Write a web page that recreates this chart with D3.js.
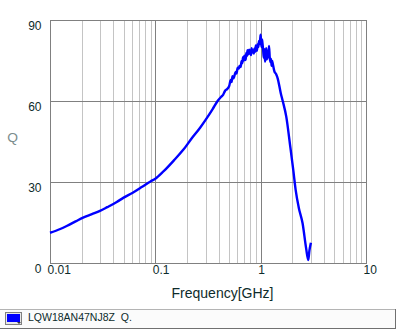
<!DOCTYPE html>
<html><head><meta charset="utf-8">
<script src="https://cdn.jsdelivr.net/npm/d3@7/dist/d3.min.js"></script>
<style>
html,body{margin:0;padding:0;background:#fff;}
svg{display:block;}
text{font-family:"Liberation Sans Narrow","Liberation Sans",Arial,sans-serif;}
</style></head>
<body>
<script>
const freqGHz = [0.01,0.0125,0.0144,0.0175,0.0206,0.025,0.0298,0.035,0.043,0.05,0.061,0.075,0.09,0.1,0.12,0.15,0.184,0.22,0.265,0.3,0.35,0.39,0.42,0.44,0.46,0.48,0.503,0.52,0.53,0.54,0.55,0.56,0.58,0.59,0.605,0.62,0.63,0.645,0.66,0.67,0.68,0.69,0.70,0.71,0.72,0.73,0.74,0.75,0.76,0.77,0.78,0.79,0.80,0.81,0.82,0.835,0.85,0.86,0.87,0.885,0.9,0.91,0.92,0.935,0.95,0.965,0.98,0.99,1.0,1.01,1.02,1.03,1.04,1.055,1.07,1.085,1.1,1.115,1.13,1.145,1.16,1.18,1.2,1.22,1.24,1.255,1.27,1.285,1.3,1.35,1.4,1.45,1.55,1.62,1.75,1.91,2.04,2.15,2.3,2.5,2.7,2.83,2.9,3.0];
const qValues = [11.2,12.6,13.7,15.4,16.8,18.1,19.3,20.7,22.6,24.2,26.0,28.2,30.2,31.2,34,38,41.9,46,50,53,57,60,61.5,62.3,63.8,64.4,65.6,67.8,67.0,69.2,68.4,69.0,70.8,70.2,72.3,72.0,73.0,72.6,74.8,74.0,76.2,75.0,76.8,75.6,75.2,77.8,76.6,78.8,77.2,78.4,79.0,77.4,78.2,77.0,79.6,78.0,78.8,77.6,79.4,78.2,80.6,79.2,78.6,81.0,80.0,82.2,81.2,83.0,84.6,81.6,80.0,82.8,81.4,79.0,76.0,79.2,74.6,77.6,79.6,75.4,77.0,76.2,80.4,76.0,74.4,75.6,73.0,74.8,74.0,71.0,70.0,68.4,63,60,54.2,43.1,34.4,27,20.5,14.7,5.5,1.1,4.5,7.5];
const xTicks = [0.01,0.1,1,10];
const xTickLabels = ["0.01","0.1","1","10"];
const yTicks = [0,30,60,90];
const xTitle = "Frequency[GHz]";
const yTitle = "Q";
const legendLabel = "LQW18AN47NJ8Z  Q.";

const W=396,H=329;
const L=50,R=366,T=20,B=263;
const svg=d3.select("body").append("svg").attr("width",W).attr("height",H);
const x=d3.scaleLog().domain([0.01,10]).range([L,R]);
const y=d3.scaleLinear().domain([0,90]).range([B,T]);

// minor grid
const minor=[];
for(let d=0.01; d<10; d*=10){ for(let k=2;k<=9;k++) minor.push(d*k); }
svg.append("g").selectAll("line").data(minor).join("line")
  .attr("x1",d=>Math.round(x(d))+0.5).attr("x2",d=>Math.round(x(d))+0.5)
  .attr("y1",T).attr("y2",B).attr("stroke","#c4c4c4").attr("stroke-width",1);
// major grid
svg.append("g").selectAll("line").data(xTicks).join("line")
  .attr("x1",d=>Math.round(x(d))+0.5).attr("x2",d=>Math.round(x(d))+0.5)
  .attr("y1",T).attr("y2",B).attr("stroke","#808080").attr("stroke-width",1);
svg.append("g").selectAll("line").data(yTicks).join("line")
  .attr("x1",L).attr("x2",R)
  .attr("y1",d=>Math.round(y(d))+0.5).attr("y2",d=>Math.round(y(d))+0.5)
  .attr("stroke","#808080").attr("stroke-width",1);
svg.append("rect").attr("x",L+0.5).attr("y",T+0.5).attr("width",R-L).attr("height",B-T)
  .attr("fill","none").attr("stroke","#808080").attr("stroke-width",1);

// curve
const line=d3.line().x((d,i)=>x(freqGHz[i])).y(d=>y(d)).curve(d3.curveMonotoneX);
svg.append("path").datum(qValues).attr("d",line)
  .attr("fill","none").attr("stroke","#0000ff").attr("stroke-width",2.4).attr("stroke-linejoin","round");

// tick labels
svg.append("g").selectAll("text").data(xTicks).join("text")
  .attr("x",d=>x(d)-2.5).attr("y",274).attr("font-size",12).attr("fill","#0d2b2b")
  .text((d,i)=>xTickLabels[i]);
svg.append("g").selectAll("text").data(yTicks).join("text")
  .attr("x",41.5).attr("y",d=>y(d)+9.5).attr("text-anchor","end").attr("font-size",12).attr("fill","#0d2b2b")
  .text(d=>d);

// titles
svg.append("text").attr("x",222.5).attr("y",298).attr("text-anchor","middle")
  .attr("font-size",14).attr("fill","#0d2b2b").style("font-family","'Liberation Sans',Arial,sans-serif").text(xTitle);
svg.append("text").attr("x",12.5).attr("y",142.5).attr("text-anchor","middle")
  .attr("font-size",12).attr("fill","#7a8c8c").style("font-family","'Liberation Sans',Arial,sans-serif")
  .attr("transform","translate(12.5,142.5) scale(1.15,1) translate(-12.5,-142.5)").text(yTitle);

// legend strip
svg.append("rect").attr("x",0).attr("y",309).attr("width",395).attr("height",19).attr("fill","#fbfbfb");
svg.append("line").attr("x1",0).attr("x2",395).attr("y1",309.5).attr("y2",309.5).attr("stroke","#b4b4b4");
svg.append("line").attr("x1",0).attr("x2",395).attr("y1",328.5).attr("y2",328.5).attr("stroke","#707070");
svg.append("line").attr("x1",395.5).attr("x2",395.5).attr("y1",309).attr("y2",329).attr("stroke","#707070");
// swatch
svg.append("rect").attr("x",5.5).attr("y",312.5).attr("width",16).attr("height",12).attr("fill","#e8e8e8").attr("stroke","#808080");
svg.append("rect").attr("x",7).attr("y",314).attr("width",13).attr("height",8).attr("fill","#0000ff");
svg.append("path").attr("d","M17,322 L21,322 L19,324 Z").attr("fill","#333");
svg.append("text").attr("x",28).attr("y",321).attr("font-size",10.5).attr("fill","#0d2b2b")
  .style("font-family","'Liberation Sans',Arial,sans-serif").attr("letter-spacing",0)
  .attr("xml:space","preserve").style("white-space","pre").text(legendLabel);
</script>
</body></html>
